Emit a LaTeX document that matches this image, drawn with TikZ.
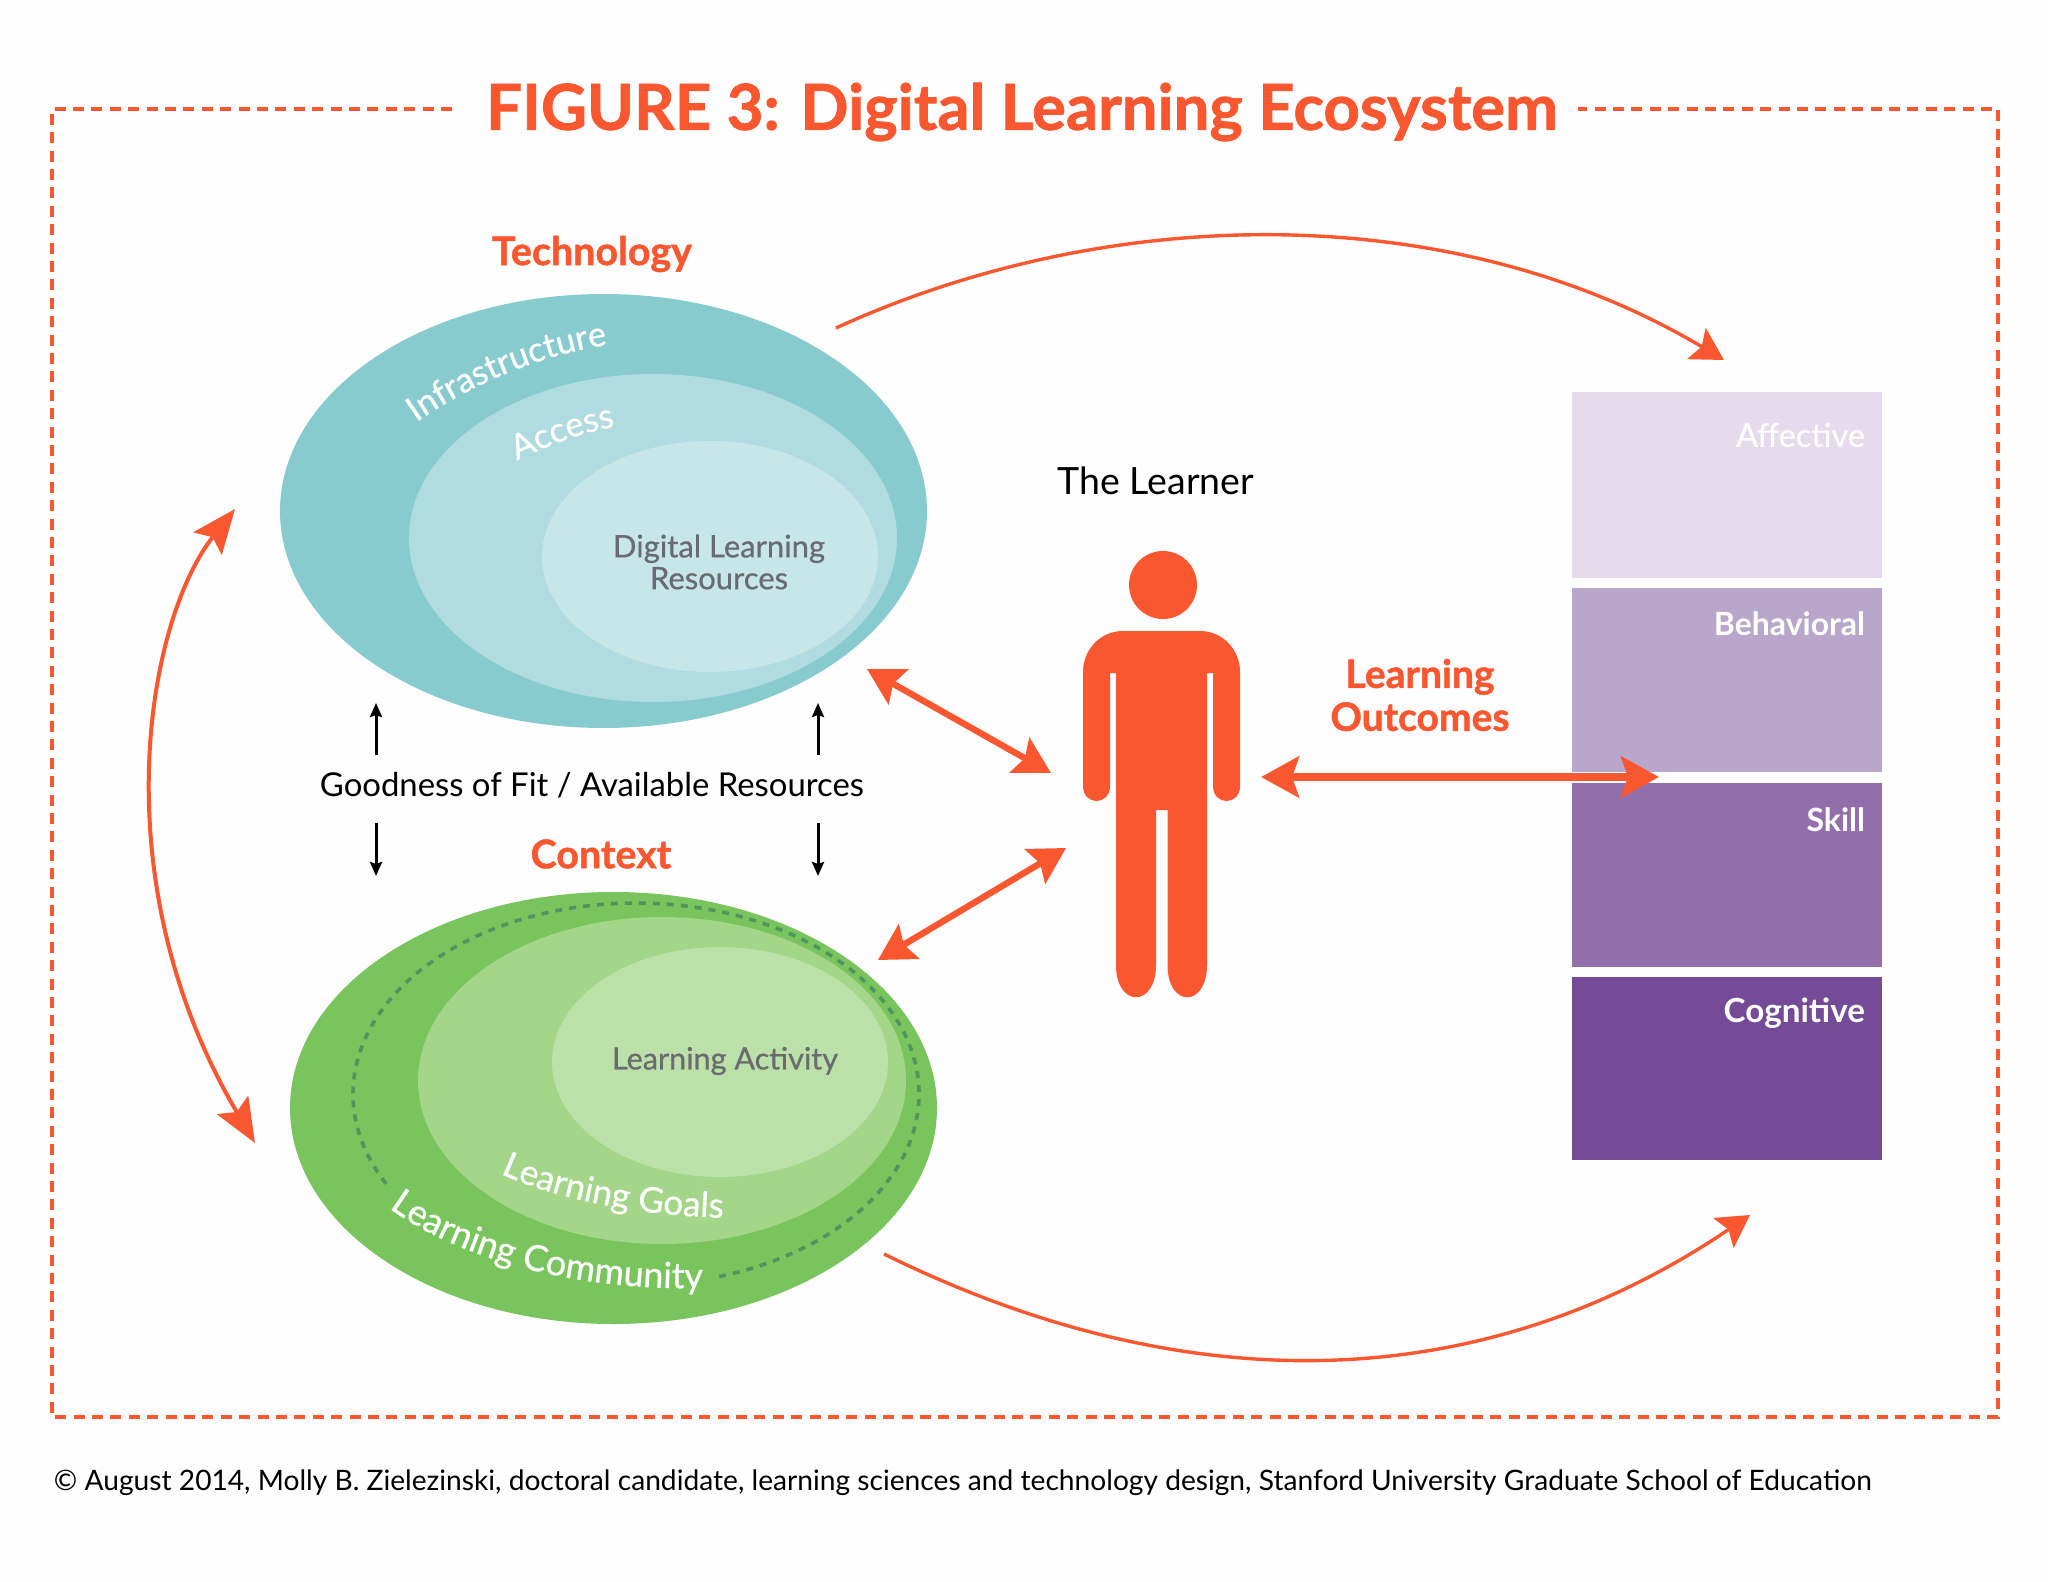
\documentclass[tikz,border=0pt]{standalone}
\usepackage{fontspec}
\setmainfont{Lato}
\usetikzlibrary{shapes.geometric,arrows.meta,decorations.text}
\definecolor{org}{HTML}{F9572F}
\definecolor{techA}{HTML}{88CBCF}
\definecolor{techB}{HTML}{B0DBE0}
\definecolor{techC}{HTML}{C6E6E8}
\definecolor{ctxA}{HTML}{79C45C}
\definecolor{ctxB}{HTML}{A3D688}
\definecolor{ctxC}{HTML}{BCE1A8}
\definecolor{ctxD}{HTML}{4E9560}
\definecolor{grayT}{HTML}{6A6B70}
\definecolor{purA}{HTML}{E5DBEC}
\definecolor{purB}{HTML}{B9A6CB}
\definecolor{purC}{HTML}{926FAA}
\definecolor{purD}{HTML}{754A97}
\newcommand{\fs}[1]{\fontsize{#1}{#1}\selectfont}
\newcommand{\hv}{\bfseries\addfontfeature{FakeBold=1.2}}
\newcommand{\md}{\addfontfeature{FakeBold=0.6}}
\tikzset{
  blob/.style={ellipse,inner sep=0pt,outer sep=0pt},
  pbox/.style={rectangle,inner sep=0pt,outer sep=0pt,anchor=north west},
  heavy/.style={draw=org,line width=4pt,{Stealth[length=19pt,width=20.5pt,inset=3.5pt]}-{Stealth[length=19pt,width=20.5pt,inset=3.5pt]}},
  mid/.style={draw=org,line width=3.2pt,{Stealth[length=18pt,width=20pt,inset=3pt]}-{Stealth[length=18pt,width=20pt,inset=3pt]}},
  swing/.style={draw=org,line width=1.7pt,-{Stealth[length=16pt,width=18pt,inset=3pt]}},
  swingb/.style={draw=org,line width=2pt,{Stealth[length=22pt,width=18pt,inset=4pt]}-{Stealth[length=22pt,width=18pt,inset=4pt]}},
  fit/.style={draw=black,line width=1.5pt,-{Stealth[length=7pt,width=6pt,inset=1pt]}},
  frame/.style={draw=org,line width=2pt,dash pattern=on 5.5pt off 3.7pt},
  lab/.style={inner sep=0pt,outer sep=0pt,anchor=center},
}
\begin{document}
\begin{tikzpicture}[x=0.5pt,y=-0.5pt]
\useasboundingbox (0,0) rectangle (2048,1582);
\fill[white!99.5!black] (0,0) rectangle (2048,1582);
% frame
\coordinate (ftl) at (452,109);
\coordinate (ftc) at (52,109);
\coordinate (fbl) at (52,1417);
\coordinate (fbr) at (1998,1417);
\coordinate (ftr) at (1998,109);
\coordinate (fte) at (1578,109);
\draw[frame] (ftl) -- (ftc) -- (fbl) -- (fbr) -- (ftr) -- (fte);
\node[lab,text=org] (title) at (1022,112) {\fs{31.7}\hv FIGURE 3: Digital Learning Ecosystem};
% technology
\node[blob,fill=techA,minimum width=323.5pt,minimum height=217pt] (tech) at (603.5,511) {};
\node[blob,fill=techB,minimum width=244pt,minimum height=164pt] (access) at (653,538) {};
\node[blob,fill=techC,minimum width=168pt,minimum height=115.5pt] (dlr) at (710,556.5) {};
\node[lab,text=org] (techl) at (592,254) {\fs{19.7}\hv Technology};
\node[lab,text=grayT,align=center] (dlrl) at (719,562) {\fs{15.5}\md Digital Learning\\[1pt]\fs{15.5}\md Resources};
\path[decorate,decoration={text along path,text align=center,text={|\fs{17.2}\md\color{white}|Infrastructure}}] (417,422) .. controls (470,385) and (540,355) .. (607,345);
\path[decorate,decoration={text along path,text align=center,text={|\fs{17.2}\md\color{white}|Access}}] (518,460) .. controls (550,445) and (580,433) .. (614,427);
% context
\node[blob,fill=ctxA,minimum width=323.5pt,minimum height=216pt] (ctx) at (613.5,1108) {};
\draw[draw=ctxD,line width=1.8pt,dash pattern=on 3.5pt off 3.5pt] plot[domain=152:433,samples=240,smooth] ({636+283*cos(\x)},{1094+191*sin(\x)});
\node[blob,fill=ctxB,minimum width=244pt,minimum height=163.5pt] (goals) at (662,1080.5) {};
\node[blob,fill=ctxC,minimum width=168pt,minimum height=115pt] (act) at (720,1062) {};
\node[lab,text=org] (ctxl) at (601,854) {\fs{19.7}\hv Context};
\node[lab,text=grayT] (actl) at (725,1061) {\fs{15.3}\md Learning Activity};
\path[decorate,decoration={text along path,text align=center,text={|\fs{17.6}\md\color{white}|Learning Goals}}] (499,1173) .. controls (550,1197) and (630,1215) .. (725,1218);
\path[decorate,decoration={text along path,text align=center,text={|\fs{18}\md\color{white}|Learning Community}}] (385,1205) .. controls (450,1255) and (570,1292) .. (708,1288);
% fit label and arrows
\node[lab] (fitl) at (592,785) {\fs{16.43}Goodness of Fit / Available Resources};
\coordinate (u1a) at (376,755); \coordinate (u1b) at (376,703);
\coordinate (u2a) at (818,755); \coordinate (u2b) at (818,703);
\coordinate (d1a) at (376,823); \coordinate (d1b) at (376,876);
\coordinate (d2a) at (818,823); \coordinate (d2b) at (818,876);
\draw[fit] (u1a) -- (u1b);
\draw[fit] (u2a) -- (u2b);
\draw[fit] (d1a) -- (d1b);
\draw[fit] (d2a) -- (d2b);
% learner
\node[lab] (learner) at (1156,481) {\fs{18.75}The Learner};
\node[blob,fill=org,circle,minimum size=34pt] (head) at (1163,585) {};
\fill[org] (1083,672) .. controls (1083,650) and (1100,631) .. (1123,631) -- (1200,631)
  .. controls (1223,631) and (1240,650) .. (1240,672) -- (1240,786)
  .. controls (1240,806) and (1213,806) .. (1213,786) -- (1213,673) -- (1207,673)
  -- (1207,965) .. controls (1207,1008) and (1167.5,1008) .. (1167.5,965) -- (1167.5,810) -- (1156,810)
  -- (1156,965) .. controls (1156,1008) and (1116,1008) .. (1116,965) -- (1116,673) -- (1110,673)
  -- (1110,786) .. controls (1110,806) and (1083,806) .. (1083,786) -- cycle;
% boxes
\node[pbox,fill=purA,minimum width=155pt,minimum height=93pt] (aff) at (1572,392) {};
\node[pbox,fill=purB,minimum width=155pt,minimum height=92pt] (beh) at (1572,588) {};
\node[pbox,fill=purC,minimum width=155pt,minimum height=92pt] (ski) at (1572,783) {};
\node[pbox,fill=purD,minimum width=155pt,minimum height=91.5pt] (cog) at (1572,977) {};
\node[lab,anchor=east,text=white] at (1865,435) {\fs{16.3}\md Affective};
\node[lab,anchor=east,text=white] at (1865,624) {\fs{16}\bfseries Behavioral};
\node[lab,anchor=east,text=white] at (1865,820) {\fs{16}\bfseries Skill};
\node[lab,anchor=east,text=white] at (1865,1013) {\fs{16.6}\bfseries Cognitive};
\node[lab,text=org,align=center] (lo) at (1420,695) {\fs{19.5}\hv Learning\\[2.7pt]\fs{19.5}\hv Outcomes};
% arrows
\coordinate (loa) at (1261,777); \coordinate (lob) at (1659,777);
\draw[heavy] (loa) -- (lob);
\coordinate (ta) at (867,669); \coordinate (tb) at (1051,773);
\draw[mid] (ta) -- (tb);
\coordinate (ca) at (878,960); \coordinate (cb) at (1066,848);
\draw[mid] (ca) -- (cb);
\coordinate (sa) at (836,328); \coordinate (sb) at (1724,360);
\draw[swing] (sa) .. controls (1111,202) and (1454,199) .. (sb);
\coordinate (ra) at (884,1254); \coordinate (rb) at (1750,1215);
\draw[swing] (ra) .. controls (1184,1402) and (1480,1398) .. (rb);
\coordinate (la) at (255,1143); \coordinate (lb) at (235,509);
\draw[swingb] (la) .. controls (100,880) and (147,620) .. (lb);
\node[lab,anchor=west] (copy) at (54,1483) {\fs{14.08}© August 2014, Molly B. Zielezinski, doctoral candidate, learning sciences and technology design, Stanford University Graduate School of Education};
\end{tikzpicture}
\end{document}
